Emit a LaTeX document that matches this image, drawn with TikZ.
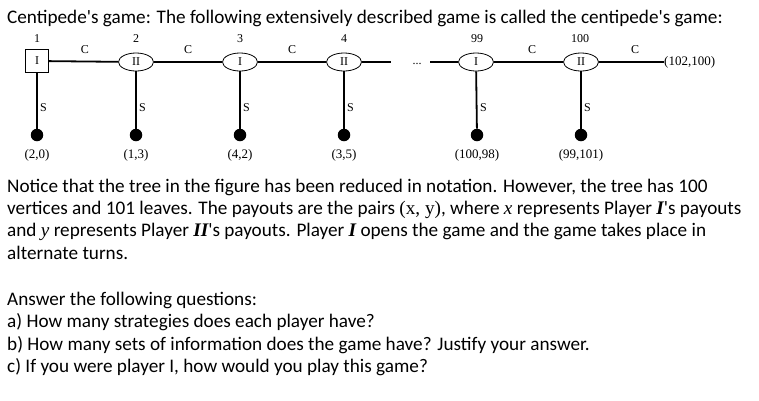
\documentclass[tikz,border=0pt]{standalone}
\usepackage{fontspec}
\setmainfont{Carlito}[Ligatures=TeXOff]
\newfontfamily\tms{Liberation Serif}
\usetikzlibrary{shapes.geometric}
\begin{document}
\begin{tikzpicture}[x=1pt,y=-1pt,
  txt/.style={anchor=base west,inner sep=0,font=\fontsize{19.2}{22}\selectfont},
  sq/.style={draw,line width=0.8pt,minimum size=23pt,inner sep=0,font=\tms\fontsize{12}{12}\selectfont},
  ell/.style={draw,ellipse,line width=0.8pt,minimum width=35pt,minimum height=18pt,inner sep=0,font=\tms\fontsize{12}{12}\selectfont},
  leaf/.style={circle,fill=black,minimum size=12.5pt,inner sep=0},
  edge/.style={line width=1.8pt},
  lab/.style={inner sep=0,font=\tms\fontsize{12}{12}\selectfont},
  pay/.style={inner sep=0,font=\tms\fontsize{13}{13}\selectfont}]
\useasboundingbox (0,0) rectangle (759,400);
% title
\node[txt] (title) at (7,23) {Centipede's game: The following extensively described game is called the centipede's game:};
% decision nodes
\node[sq] (n1) at (37,61) {I};
\node[ell] (n2) at (136,62) {II};
\node[ell] (n3) at (240,62) {I};
\node[ell] (n4) at (344,62) {II};
\node[ell] (n99) at (476,62) {I};
\node[ell] (n100) at (581,62) {II};
\coordinate (d1) at (391,62);
\coordinate (d2) at (430,62);
\node[lab] (dots) at (417,64) {...};
\node[pay,anchor=west] (end) at (664,62) {(102,100)};
% leaves
\foreach \n/\x/\p in {1/37/{(2,0)},2/136/{(1,3)},3/240/{(4,2)},4/344/{(3,5)},99/477/{(100,98)},100/581/{(99,101)}}{
  \node[leaf] (l\n) at (\x,135) {};
  \draw[edge] (n\n) -- (l\n);
  \node[lab,anchor=west] at (\x+3,108) {S};
  \node[pay] at (\x,155) {\p};
}
% edges
\draw[edge] (n1) -- (n2);
\draw[edge] (n2) -- (n3);
\draw[edge] (n3) -- (n4);
\draw[edge] (n4) -- (d1);
\draw[edge] (d2) -- (n99);
\draw[edge] (n99) -- (n100);
\draw[edge] (n100) -- (end);
% C labels
\foreach \x in {85,188,292,532,635}{\node[lab] at (\x,50) {C};}
% numbers
\foreach \x/\t in {37/1,136/2,240/3,344/4,477/99,580/100}{\node[lab] at (\x,39) {\t};}
% body text
\node[txt] (p1) at (7,192) {Notice that the tree in the figure has been reduced in notation. However, the tree has 100};
\node[txt] (p2) at (7,214) {vertices and 101 leaves. The payouts are the pairs {\tms(x, y)}, where {\tms\itshape x} represents Player {\tms\bfseries\itshape I}'s payouts};
\node[txt] (p3) at (7,236) {and {\tms\itshape y} represents Player {\tms\bfseries\itshape II}'s payouts. Player {\tms\bfseries\itshape I} opens the game and the game takes place in};
\node[txt] (p4) at (7,259) {alternate turns.};
\node[txt] (q0) at (7,305) {Answer the following questions:};
\node[txt] (qa) at (7,327) {a) How many strategies does each player have?};
\node[txt] (qb) at (7,350) {b) How many sets of information does the game have? Justify your answer.};
\node[txt] (qc) at (7,372) {c) If you were player I, how would you play this game?};
\end{tikzpicture}
\end{document}
